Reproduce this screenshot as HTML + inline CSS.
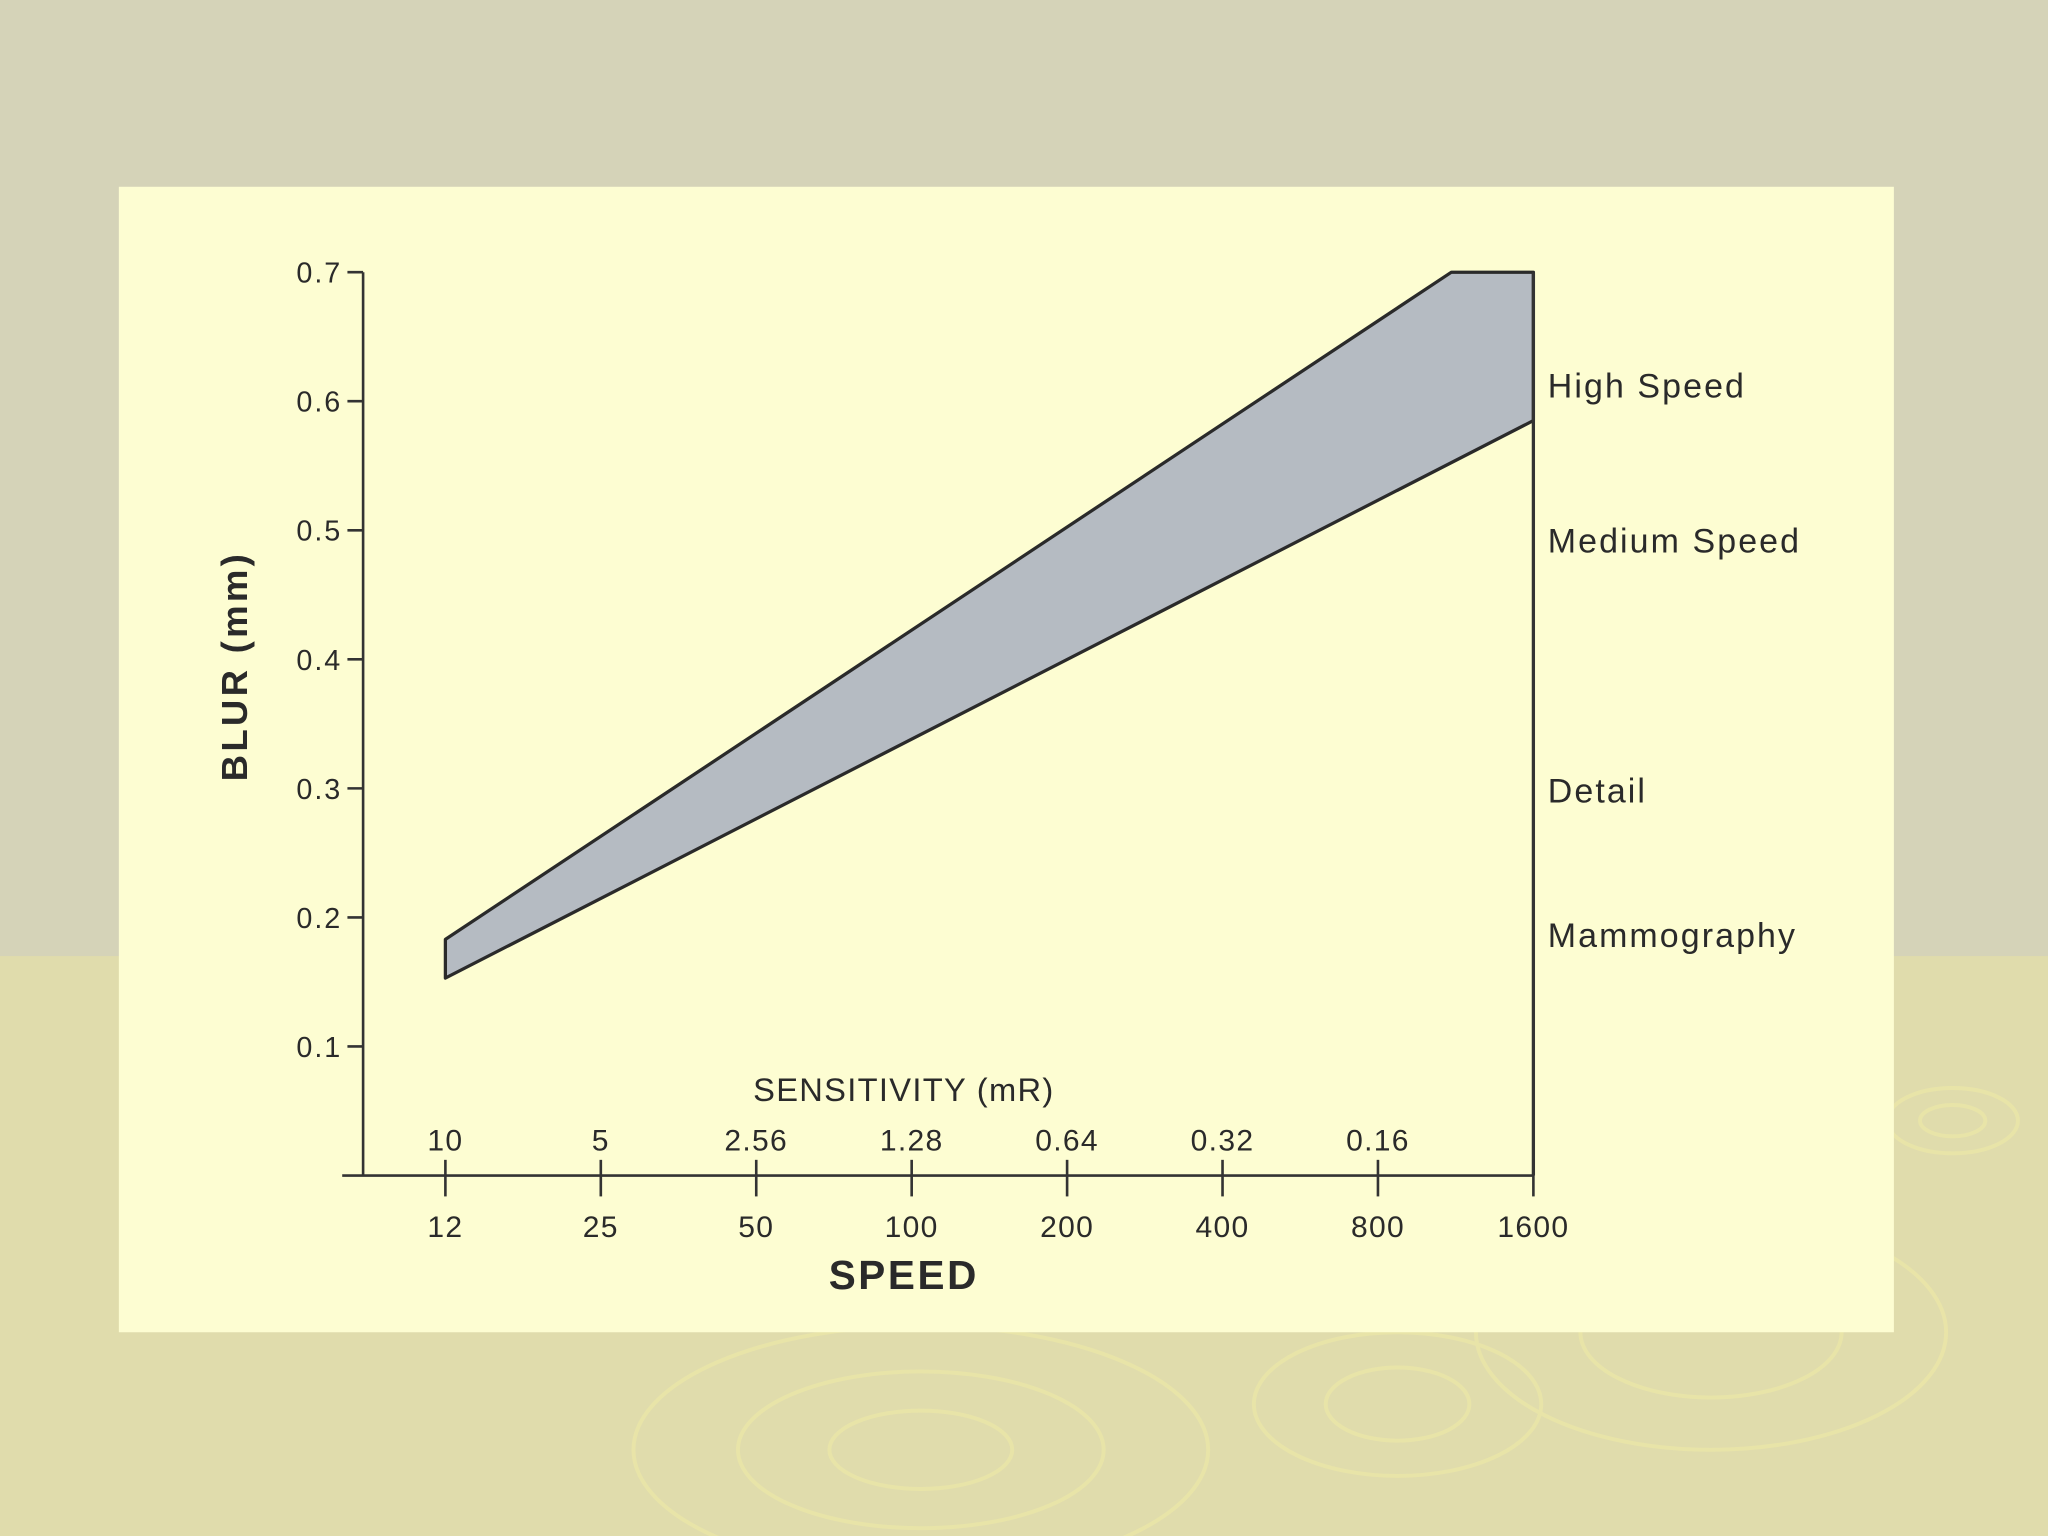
<!DOCTYPE html>
<html><head><meta charset="utf-8"><style>html,body{margin:0;padding:0;background:#d6d4b9}svg{display:block}text{font-family:"Liberation Sans",sans-serif;fill:#2a2a2a}</style></head>
<body>
<svg id="chart" width="2048" height="1536" viewBox="0 0 1568 1176" xmlns="http://www.w3.org/2000/svg">
<rect x="0" y="0" width="1568" height="732" fill="#d5d3b8"/>
<rect x="0" y="732" width="1568" height="444" fill="#e0dcac"/>
<g fill="none" stroke="#ebe6a8" stroke-width="3" opacity="0.8">
<ellipse cx="705" cy="1110" rx="220" ry="95"/><ellipse cx="705" cy="1110" rx="140" ry="60"/><ellipse cx="705" cy="1110" rx="70" ry="30"/>
<ellipse cx="1070" cy="1075" rx="110" ry="55"/><ellipse cx="1070" cy="1075" rx="55" ry="28"/>
<ellipse cx="1310" cy="1020" rx="180" ry="90"/><ellipse cx="1310" cy="1020" rx="100" ry="50"/>
<ellipse cx="1495" cy="858" rx="50" ry="25"/><ellipse cx="1495" cy="858" rx="25" ry="12"/>
</g>
<rect x="91" y="143" width="1359" height="877" fill="#fdfdd2"/>
<g id="plot"></g>
</svg>
<script>
const yTicks=[0.1,0.2,0.3,0.4,0.5,0.6,0.7];
const yTickLabels=['0.1','0.2','0.3','0.4','0.5','0.6','0.7'];
const speedTicks=[12.5,25,50,100,200,400,800,1600];
const speedLabels=['12','25','50','100','200','400','800','1600'];
const sensitivityLabels=['10','5','2.56','1.28','0.64','0.32','0.16'];
const upperSpeeds=[12.5,1110,1600];
const upperBlur=[0.183,0.7,0.7];
const lowerSpeeds=[12.5,1600];
const lowerBlur=[0.153,0.585];
const rightLabels=['High Speed','Medium Speed','Detail','Mammography'];
const rightLabelBlur=[0.612,0.492,0.298,0.186];

const NS='http://www.w3.org/2000/svg';
const g=document.getElementById('plot');
const X0=341,XS=119,Y0=900,YS=988;
const xs=s=>X0+Math.log2(s/12.5)*XS;
const ys=v=>Y0-v*YS;
function el(t,a,txt){const e=document.createElementNS(NS,t);for(const k in a)e.setAttribute(k,a[k]);if(txt!==undefined)e.textContent=txt;g.appendChild(e);return e;}

let pts=[];
upperSpeeds.forEach((s,i)=>pts.push(xs(s)+','+ys(upperBlur[i])));
for(let i=lowerSpeeds.length-1;i>=0;i--)pts.push(xs(lowerSpeeds[i])+','+ys(lowerBlur[i]));
let band=el('polygon',{points:pts.join(' '),fill:'#b5bbc2',stroke:'#2a2a2a','stroke-width':2.5,'stroke-linejoin':'round'});



let ya=el('line',{x1:278,y1:ys(0.7),x2:278,y2:Y0,stroke:'#333','stroke-width':2});


let xa=el('line',{x1:262,y1:Y0,x2:xs(1600),y2:Y0,stroke:'#333','stroke-width':2});


let rl=el('line',{x1:xs(1600),y1:ys(0.7),x2:xs(1600),y2:Y0,stroke:'#333','stroke-width':2.5});



yTicks.forEach((v,i)=>{
 let t=el('line',{x1:266,y1:ys(v),x2:278,y2:ys(v),stroke:'#333','stroke-width':2});
 
 
 let l=el('text',{x:262,y:ys(v)+8,'text-anchor':'end','font-size':22,'letter-spacing':1.5},yTickLabels[i]);
 
 
});
speedTicks.forEach((s,i)=>{
 let t=el('line',{x1:xs(s),y1:Y0-12,x2:xs(s),y2:Y0+16,stroke:'#333','stroke-width':2});
 
 
 let l=el('text',{x:xs(s),y:947,'text-anchor':'middle','font-size':23,'letter-spacing':1},speedLabels[i]);
 
 
 if(i<sensitivityLabels.length){
  let m=el('text',{x:xs(s),y:881,'text-anchor':'middle','font-size':23,'letter-spacing':1},sensitivityLabels[i]);
  
  
 }
});
rightLabels.forEach((t,i)=>{
 let l=el('text',{x:1185,y:ys(rightLabelBlur[i])+9,'font-size':26,'letter-spacing':1.6},t);
 
 
});
let st=el('text',{x:692,y:843,'text-anchor':'middle','font-size':25,'letter-spacing':1},'SENSITIVITY (mR)');


let sp=el('text',{x:692,y:987,'text-anchor':'middle','font-size':31,'font-weight':'bold','letter-spacing':2},'SPEED');


let yt=el('text',{x:0,y:0,'text-anchor':'middle','font-size':28,'font-weight':'bold','letter-spacing':2.5,transform:'translate(189,510) rotate(-90)'},'BLUR (mm)');


</script>
</body></html>
